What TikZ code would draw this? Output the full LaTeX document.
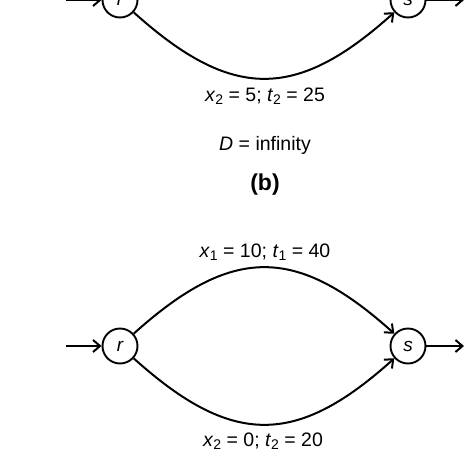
\documentclass[tikz,border=0pt]{standalone}
\usepackage{fontspec}
\setmainfont{Liberation Sans}
\usetikzlibrary{arrows.meta}
\tikzset{
  vert/.style={circle,draw,line width=1.9pt,minimum size=35pt,inner sep=0pt,font=\fontsize{19}{21}\selectfont\itshape},
  edge/.style={line width=2pt,-{Straight Barb[length=7pt,width=12pt,line width=2pt]}},
  lbl/.style={font=\fontsize{19.5}{21}\selectfont,inner sep=0pt},
}
\newcommand{\sbs}[1]{\raisebox{-0.35ex}{\fontsize{14}{15}\selectfont #1}}
\begin{document}
\begin{tikzpicture}[x=1pt,y=-1pt]
\useasboundingbox (0,0) rectangle (474,474);
% top half
\node[vert] (r1) at (120,0) {r};
\node[vert] (s1) at (408,0) {s};
\coordinate (in1) at (66,0);
\coordinate (out1) at (464,0);
\draw[edge] (in1) -- (r1);
\draw[edge] (s1) -- (out1);
\draw[edge] (r1) to[out=-42,in=-138,looseness=1.3] (s1);
\node[lbl] (l1) at (265,96) {\textit{x}\sbs{2} = 5; \textit{t}\sbs{2} = 25};
\node[lbl] (d) at (265,145) {\textit{D} = infinity};
\node[font=\fontsize{23}{25}\selectfont\bfseries,inner sep=0pt] (b) at (265,185) {(b)};
% bottom half
\node[vert] (r) at (120,346) {r};
\node[vert] (s) at (408,346) {s};
\coordinate (in2) at (66,346);
\coordinate (out2) at (464,346);
\draw[edge] (in2) -- (r);
\draw[edge] (s) -- (out2);
\draw[edge] (r) to[out=42,in=138,looseness=1.3] (s);
\draw[edge] (r) to[out=-42,in=-138,looseness=1.3] (s);
\node[lbl] (l2) at (265,252) {\textit{x}\sbs{1} = 10; \textit{t}\sbs{1} = 40};
\node[lbl] (l3) at (263,441) {\textit{x}\sbs{2} = 0; \textit{t}\sbs{2} = 20};
\end{tikzpicture}
\end{document}
